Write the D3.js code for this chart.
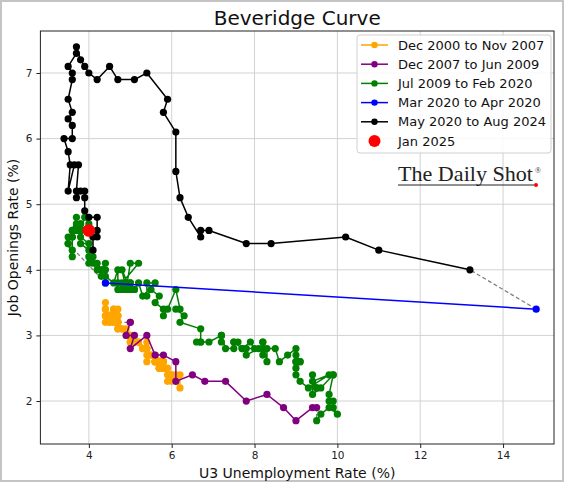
<!DOCTYPE html>
<html>
<head>
<meta charset="utf-8">
<style>
  body { margin: 0; background: #fff; }
  svg { font-family: "DejaVu Sans", sans-serif; }
</style>
</head>
<body>
<svg width="564" height="482"></svg>
<script src="https://d3js.org/d3.v7.min.js"></script>
<script>

// [unemployment rate, job openings rate], monthly
var dec2000_nov2007 = [
  [4.4,3.5],[4.4,3.4],[4.4,3.3],[4.6,3.4],[4.7,3.3],[4.6,3.2],[4.7,3.1],[4.8,3.1],[5.0,3.0],[5.1,2.9],[5.3,2.8],[5.4,2.8],[5.6,2.6],
  [5.6,2.6],[5.7,2.5],[5.7,2.6],[5.8,2.6],[5.8,2.5],[5.8,2.6],[5.8,2.5],[5.7,2.5],[5.7,2.6],[5.7,2.5],[5.9,2.5],[6.0,2.4],
  [5.8,2.5],[5.9,2.4],[5.9,2.3],[6.0,2.3],[6.1,2.3],[6.2,2.2],[6.2,2.4],[6.1,2.4],[6.1,2.3],[6.0,2.4],[5.8,2.5],[5.7,2.5],
  [5.7,2.6],[5.6,2.6],[5.8,2.6],[5.6,2.7],[5.6,2.6],[5.6,2.6],[5.5,2.7],[5.4,2.6],[5.4,2.7],[5.5,2.7],[5.4,2.8],[5.4,2.9],
  [5.3,2.8],[5.4,2.8],[5.2,2.9],[5.2,2.9],[5.1,2.9],[5.0,3.0],[5.0,2.9],[4.9,3.0],[5.0,3.0],[5.0,2.9],[5.0,3.0],[4.9,3.1],
  [4.7,3.1],[4.8,3.1],[4.7,3.2],[4.7,3.2],[4.6,3.3],[4.6,3.2],[4.7,3.3],[4.7,3.2],[4.5,3.2],[4.4,3.3],[4.5,3.3],[4.4,3.3],
  [4.6,3.3],[4.5,3.3],[4.4,3.4],[4.5,3.2],[4.4,3.2],[4.6,3.4],[4.7,3.4],[4.6,3.3],[4.7,3.2],[4.7,3.3],[4.7,3.2]
];

var dec2007_jun2009 = [
  [5.0,3.2],[5.0,3.2],[4.9,3.0],[5.1,3.0],[5.0,2.8],[5.4,3.0],[5.6,2.7],[5.8,2.7],[6.1,2.6],[6.1,2.3],
  [6.5,2.4],[6.8,2.3],[7.3,2.3],[7.8,2.0],[8.3,2.1],[8.7,1.9],[9.0,1.7],[9.4,1.9],[9.5,1.9]
];

var jul2009_feb2020 = [
  [9.5,1.7],[9.6,1.8],[9.8,1.9],[10.0,1.8],[9.9,1.9],[9.9,2.0],
  [9.8,2.0],[9.8,2.1],[9.9,2.4],[9.9,2.4],[9.6,2.2],[9.4,2.1],[9.4,2.4],[9.5,2.2],[9.5,2.2],[9.4,2.3],[9.8,2.4],[9.3,2.2],
  [9.1,2.3],[9.0,2.4],[9.0,2.5],[9.1,2.6],[9.0,2.6],[9.1,2.6],[9.0,2.7],[9.0,2.6],[9.0,2.8],[8.8,2.7],[8.6,2.6],[8.5,2.8],
  [8.3,2.8],[8.3,2.6],[8.2,2.9],[8.2,2.8],[8.2,2.9],[8.2,2.7],[8.2,2.8],[8.1,2.8],[7.8,2.7],[7.8,2.8],[7.7,2.8],[7.9,2.9],
  [8.0,2.8],[7.7,2.8],[7.5,2.9],[7.6,2.9],[7.5,2.9],[7.5,2.8],[7.3,2.8],[7.2,3.0],[7.2,2.9],[7.2,3.0],[6.9,2.9],[6.7,2.9],
  [6.6,2.9],[6.7,2.9],[6.7,3.1],[6.2,3.2],[6.3,3.3],[6.1,3.4],[6.2,3.4],[6.1,3.7],[5.9,3.4],[5.8,3.3],[5.8,3.4],[5.6,3.5],
  [5.7,3.6],[5.5,3.7],[5.4,3.6],[5.4,3.8],[5.6,3.8],[5.3,3.6],[5.2,3.8],[5.1,3.7],[5.0,3.7],[5.0,3.8],[5.1,3.7],[5.0,3.7],
  [4.8,4.0],[4.9,3.7],[5.0,4.1],[5.2,4.1],[4.8,3.8],[4.9,3.7],[4.8,3.7],[4.9,3.7],[5.0,3.8],[4.9,3.8],[4.7,3.7],[4.7,3.8],
  [4.7,4.0],[4.6,3.8],[4.4,3.9],[4.4,3.8],[4.4,4.0],[4.3,4.0],[4.3,3.9],[4.4,4.1],[4.3,4.0],[4.2,4.1],[4.2,4.0],[4.1,4.1],
  [4.0,4.1],[4.1,4.2],[4.0,4.2],[4.0,4.3],[3.8,4.4],[4.0,4.4],[3.8,4.5],[3.8,4.6],[3.7,4.6],[3.8,4.7],[3.8,4.6],[3.9,4.8],
  [4.0,4.7],[3.8,4.6],[3.8,4.7],[3.7,4.7],[3.6,4.6],[3.6,4.6],[3.7,4.8],[3.6,4.5],[3.5,4.5],[3.6,4.5],[3.6,4.3],[3.6,4.2],
  [3.5,4.4],[3.5,4.4]
];

var mar2020_apr2020 = [[4.4,3.8],[14.8,3.4]];

var may2020_aug2024 = [
  [13.2,4.0],[11.0,4.3],[10.2,4.5],[8.4,4.4],[7.8,4.4],[6.9,4.6],[6.7,4.6],[6.7,4.5],
  [6.4,4.8],[6.2,5.1],[6.1,5.5],[6.1,6.1],[5.8,6.4],[5.9,6.6],[5.4,7.0],[5.1,6.9],[4.7,6.9],[4.5,7.1],[4.2,6.9],[4.0,7.0],
  [3.9,7.1],[3.8,7.2],[3.7,7.4],[3.7,7.3],[3.5,7.1],[3.6,7.0],[3.6,6.9],[3.5,6.6],[3.6,6.4],[3.5,6.3],[3.6,6.2],[3.6,6.0],
  [3.4,6.0],[3.5,5.8],[3.55,5.6],[3.5,5.2],[3.65,5.6],[3.75,5.6],[3.7,5.2],[3.7,5.1],[3.8,5.2],[3.9,5.2],[3.9,5.1],[3.9,4.9],
  [4.0,4.8],[4.2,4.8],[4.2,4.6],[4.2,4.5],[4.1,4.5],[4.1,4.3]
];

var jan2025 = [4.0, 4.6];

var seriesNames = ["Dec 2000 to Nov 2007", "Dec 2007 to Jun 2009", "Jul 2009 to Feb 2020",
                   "Mar 2020 to Apr 2020", "May 2020 to Aug 2024", "Jan 2025"];
var seriesColors = ["orange", "purple", "green", "blue", "black", "red"];
var xTicks = [4, 6, 8, 10, 12, 14];
var yTicks = [2, 3, 4, 5, 6, 7];

var svg = d3.select("svg");
var mLeft = 40.4, mRight = 554, mTop = 31, mBottom = 444;

var x = d3.scaleLinear().domain([2.83, 15.23]).range([mLeft, mRight]);
var y = d3.scaleLinear().domain([1.345, 7.64]).range([mBottom, mTop]);

// figure border
svg.append("rect")
  .attr("x", 1).attr("y", 1).attr("width", 562).attr("height", 480)
  .attr("fill", "#fff").attr("stroke", "#c4c4c4").attr("stroke-width", 2);

// grid
svg.append("g").selectAll("line").data(xTicks).join("line")
  .attr("x1", d => x(d)).attr("x2", d => x(d)).attr("y1", mTop).attr("y2", mBottom)
  .attr("stroke", "#d2d2d2").attr("stroke-width", 1);
svg.append("g").selectAll("line").data(yTicks).join("line")
  .attr("y1", d => y(d)).attr("y2", d => y(d)).attr("x1", mLeft).attr("x2", mRight)
  .attr("stroke", "#d2d2d2").attr("stroke-width", 1);

// axes
var xAxis = svg.append("g").attr("transform", "translate(0," + mBottom + ")")
  .call(d3.axisBottom(x).tickValues(xTicks).tickFormat(d3.format("d")).tickSize(4).tickPadding(4));
var yAxis = svg.append("g").attr("transform", "translate(" + mLeft + ",0)")
  .call(d3.axisLeft(y).tickValues(yTicks).tickFormat(d3.format("d")).tickSize(4).tickPadding(4));
[xAxis, yAxis].forEach(function(a) {
  a.select(".domain").remove();
  a.selectAll("text").attr("font-size", "10.5px").attr("fill", "#222")
    .attr("font-family", "DejaVu Sans, sans-serif");
  a.selectAll("line").attr("stroke", "#222");
});

var plot = svg.append("g");
var line = d3.line().x(d => x(d[0])).y(d => y(d[1]));

// dashed gray links between the periods
var all = [dec2000_nov2007, dec2007_jun2009, jul2009_feb2020, mar2020_apr2020, may2020_aug2024, [jan2025]];
for (var i = 0; i < all.length - 1; i++) {
  var a = all[i][all[i].length - 1], b = all[i + 1][0];
  plot.append("path").datum([a, b]).attr("d", line)
    .attr("fill", "none").attr("stroke", "gray").attr("stroke-width", 1.3)
    .attr("stroke-dasharray", "4,2.5");
}

function drawSeries(data, color) {
  plot.append("path").datum(data).attr("d", line)
    .attr("fill", "none").attr("stroke", color).attr("stroke-width", 1.5)
    .attr("stroke-linejoin", "round");
  plot.append("g").selectAll("circle").data(data).join("circle")
    .attr("cx", d => x(d[0])).attr("cy", d => y(d[1])).attr("r", 3.6)
    .attr("fill", color);
}
for (var k = 0; k < 5; k++) drawSeries(all[k], seriesColors[k]);

plot.append("circle").attr("cx", x(jan2025[0])).attr("cy", y(jan2025[1]))
  .attr("r", 6.3).attr("fill", "red");

// frame
svg.append("rect").attr("x", mLeft).attr("y", mTop)
  .attr("width", mRight - mLeft).attr("height", mBottom - mTop)
  .attr("fill", "none").attr("stroke", "#222").attr("stroke-width", 1);

// title and labels
svg.append("text").attr("x", (mLeft + mRight) / 2).attr("y", 25)
  .attr("text-anchor", "middle").attr("font-size", "20px").attr("fill", "#111")
  .text("Beveridge Curve");
svg.append("text").attr("x", (mLeft + mRight) / 2).attr("y", 478)
  .attr("text-anchor", "middle").attr("font-size", "14px").attr("fill", "#111")
  .text("U3 Unemployment Rate (%)");
svg.append("text").attr("transform", "translate(18," + (mTop + mBottom) / 2 + ") rotate(-90)")
  .attr("text-anchor", "middle").attr("font-size", "14px").attr("fill", "#111")
  .text("Job Openings Rate (%)");

// legend
var lg = svg.append("g").attr("transform", "translate(357,35)");
lg.append("rect").attr("width", 194).attr("height", 118).attr("rx", 3)
  .attr("fill", "#fff").attr("fill-opacity", 0.85).attr("stroke", "#d0d0d0");
var item = lg.selectAll("g.item").data(seriesNames).join("g")
  .attr("class", "item")
  .attr("transform", (d, i) => "translate(0," + (10 + i * 19.2) + ")");
item.filter((d, i) => i < 5).append("line")
  .attr("x1", 4).attr("x2", 31).attr("stroke", (d, i) => seriesColors[i]).attr("stroke-width", 1.5);
item.append("circle").attr("cx", 17.5)
  .attr("r", (d, i) => i < 5 ? 3.2 : 6)
  .attr("fill", (d, i) => seriesColors[i]);
item.append("text").attr("x", 41).attr("dy", "0.35em")
  .attr("font-size", "13px").attr("fill", "#111").text(d => d);

// watermark
var logo = svg.append("g");
logo.append("text").attr("x", 398).attr("y", 181)
  .attr("font-family", "Liberation Serif, DejaVu Serif, serif").attr("font-size", "22px")
  .attr("textLength", 135).attr("lengthAdjust", "spacingAndGlyphs")
  .attr("fill", "#222").text("The Daily Shot");
logo.append("text").attr("x", 535).attr("y", 173)
  .attr("font-family", "Liberation Serif, serif").attr("font-size", "8px")
  .attr("fill", "#333").text("®");
logo.append("line").attr("x1", 398).attr("x2", 534).attr("y1", 185).attr("y2", 185)
  .attr("stroke", "#222").attr("stroke-width", 1);
logo.append("circle").attr("cx", 536).attr("cy", 185).attr("r", 2).attr("fill", "red");

</script>
</body>
</html>
